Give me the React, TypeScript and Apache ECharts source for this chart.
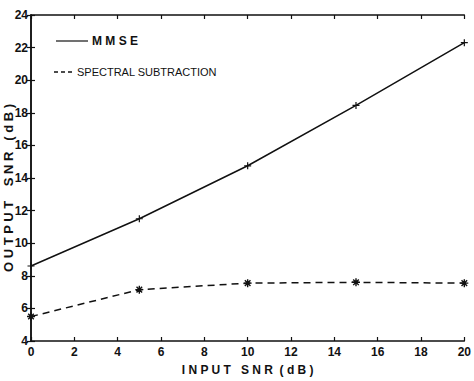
import React, { useEffect, useRef } from "react";
import * as echarts from "echarts";

const inputSnr = [0, 5, 10, 15, 20];
const mmse = [8.6, 11.5, 14.75, 18.45, 22.3];
const spectral = [5.5, 7.15, 7.55, 7.6, 7.55];
const xTicks = [0, 2, 4, 6, 8, 10, 12, 14, 16, 18, 20];
const yTicks = [4, 6, 8, 10, 12, 14, 16, 18, 20, 22, 24];
const legendLabels = ["M M S E", "SPECTRAL SUBTRACTION"];
const xTitle = "I N P U T   S N R  ( d B )";
const yTitle = "O U T P U T    S N R   ( d B )";

const plusSym = "path://M5,0 L5,10 M0,5 L10,5";
const starSym = "path://M5,0 L5,10 M0,5 L10,5 M1.5,1.5 L8.5,8.5 M8.5,1.5 L1.5,8.5";

export default function App() {
  const ref = useRef<HTMLDivElement>(null);
  useEffect(() => {
    if (!ref.current) return;
    const chart = echarts.init(ref.current, null, { renderer: "svg" });
    const font = "Liberation Sans";
    const labelStyle = { color: "#111", fontSize: 12, fontWeight: "bold" as const, fontFamily: font };
    const axisLine = { show: true, lineStyle: { color: "#111", width: 1.5 } };
    const tick = { show: true, inside: true, length: 4, lineStyle: { color: "#111", width: 1.2 } };
    chart.setOption({
      animation: false,
      backgroundColor: "#fff",
      grid: { left: 31, right: 7, top: 15, bottom: 33, containLabel: false },
      xAxis: [
        {
          type: "value",
          min: 0,
          max: 20,
          interval: 2,
          axisLine,
          axisTick: tick,
          splitLine: { show: false },
          axisLabel: { ...labelStyle, margin: 5, formatter: (v: number) => (xTicks.includes(v) ? String(v) : "") },
          name: xTitle,
          nameLocation: "middle",
          nameGap: 23,
          nameTextStyle: { color: "#111", fontSize: 12, fontWeight: "bold", fontFamily: font },
        },
        {
          type: "value",
          position: "top",
          min: 0,
          max: 20,
          interval: 2,
          axisLine,
          axisTick: tick,
          splitLine: { show: false },
          axisLabel: { show: false },
        },
      ],
      yAxis: [
        {
          type: "value",
          min: 4,
          max: 24,
          interval: 2,
          axisLine,
          axisTick: tick,
          splitLine: { show: false },
          axisLabel: { ...labelStyle, margin: 3, formatter: (v: number) => (yTicks.includes(v) ? String(v) : "") },
        },
        {
          type: "value",
          position: "right",
          min: 4,
          max: 24,
          interval: 2,
          axisLine,
          axisTick: tick,
          splitLine: { show: false },
          axisLabel: { show: false },
        },
      ],
      series: [
        {
          name: legendLabels[0],
          type: "line",
          data: inputSnr.map((x, i) => [x, mmse[i]]),
          lineStyle: { color: "#111", width: 1.5 },
          symbol: plusSym,
          symbolSize: 7,
          itemStyle: { color: "#111", borderColor: "#111", borderWidth: 1.2 },
        },
        {
          name: legendLabels[1],
          type: "line",
          data: inputSnr.map((x, i) => [x, spectral[i]]),
          lineStyle: { color: "#111", width: 1.5, type: [7, 5] },
          symbol: starSym,
          symbolSize: 8,
          itemStyle: { color: "#111", borderColor: "#111", borderWidth: 1.4 },
        },
      ],
      graphic: [
        {
          type: "text",
          x: 8,
          y: 188,
          rotation: Math.PI / 2,
          style: {
            text: yTitle,
            fill: "#111",
            font: `bold 13px "${font}"`,
            align: "center",
            verticalAlign: "middle",
          },
        },
        { type: "line", shape: { x1: 56, y1: 41, x2: 88, y2: 41 }, style: { stroke: "#111", lineWidth: 1.2 } },
        {
          type: "text",
          x: 92,
          y: 41,
          style: { text: legendLabels[0], fill: "#111", font: `bold 12px "${font}"`, verticalAlign: "middle" },
        },
        {
          type: "line",
          shape: { x1: 54, y1: 72, x2: 75, y2: 72 },
          style: { stroke: "#111", lineWidth: 1.5, lineDash: [4, 3] },
        },
        {
          type: "text",
          x: 77,
          y: 72,
          style: { text: legendLabels[1], fill: "#111", font: `11px "${font}"`, verticalAlign: "middle" },
        },
      ],
    });
    return () => chart.dispose();
  }, []);
  return <div ref={ref} style={{ width: 474, height: 381, position: "absolute", left: 0, top: 0 }} />;
}
